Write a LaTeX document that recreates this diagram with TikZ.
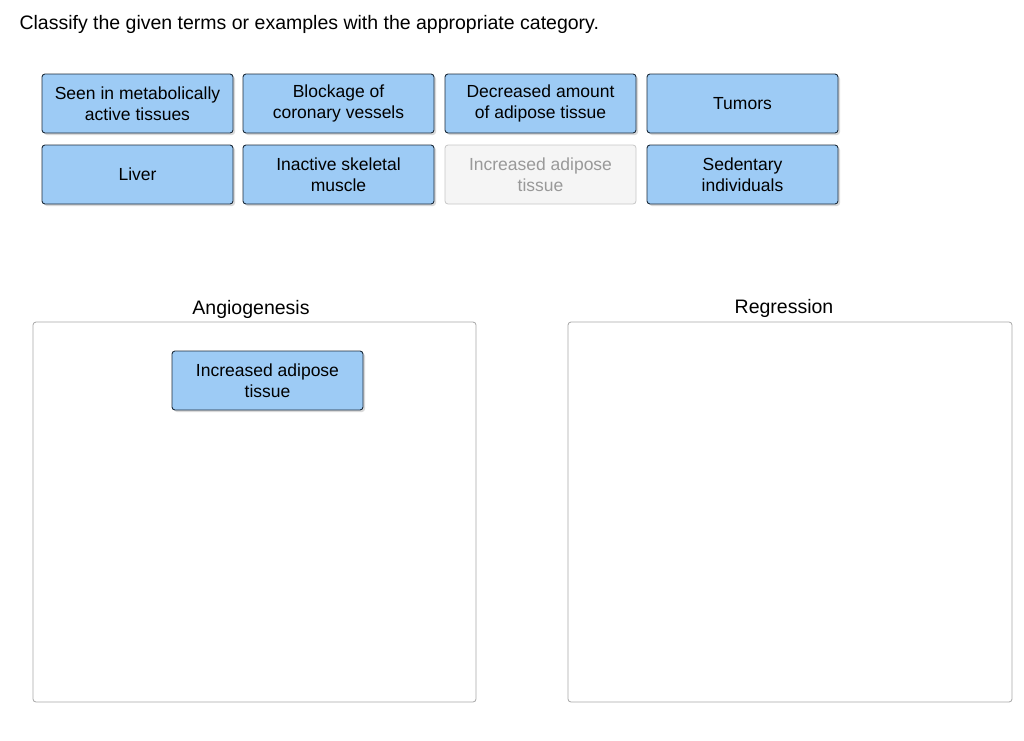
\documentclass[tikz,border=0pt]{standalone}
\usepackage{fontspec}
\setmainfont{Liberation Sans}
\usetikzlibrary{shadows}
\definecolor{cardblue}{HTML}{9DCBF5}
\definecolor{cardline}{HTML}{1C2B3A}
\begin{document}
\begin{tikzpicture}[x=1pt,y=-1pt,
  card/.style={draw=cardline,fill=cardblue,rounded corners=3pt,line width=0.9pt,minimum width=191pt,minimum height=59pt,inner sep=1pt,align=center,font=\fontsize{17.5}{21.5}\selectfont,text=black,drop shadow={shadow xshift=2pt,shadow yshift=-2pt,opacity=0.3}},
  ghost/.style={draw=black!22,fill=black!4,rounded corners=3pt,line width=0.8pt,minimum width=191pt,minimum height=59pt,inner sep=1pt,align=center,font=\fontsize{17.5}{21.5}\selectfont,text=black!40},
  bin/.style={draw=black!35,rounded corners=3pt,line width=0.8pt},
  lbl/.style={font=\fontsize{19.5}{23}\selectfont}]
\useasboundingbox (0,0) rectangle (1024,740);
\node[anchor=west,font=\fontsize{19.5}{23}\selectfont] (title) at (16,24) {Classify the given terms or examples with the appropriate category.};
\node[card] (c1) at (137.5,103.5) {Seen in metabolically\\active tissues};
\node[card] (c2) at (338.5,103.5) {Blockage of\\coronary vessels};
\node[card] (c3) at (540.5,103.5) {Decreased amount\\of adipose tissue};
\node[card] (c4) at (742.5,103.5) {Tumors};
\node[card] (c5) at (137.5,174.5) {Liver};
\node[card] (c6) at (338.5,174.5) {Inactive skeletal\\muscle};
\node[ghost] (c7) at (540.5,174.5) {Increased adipose\\tissue};
\node[card] (c8) at (742.5,174.5) {Sedentary\\individuals};
\node[lbl] (l1) at (251,309) {Angiogenesis};
\node[lbl] (l2) at (784,308) {Regression};
\draw[bin] (33,322) rectangle (476,702);
\draw[bin] (568,322) rectangle (1012,702);
\node[card,drop shadow={opacity=0}] (c9) at (267.5,380.5) {Increased adipose\\tissue};
\end{tikzpicture}
\end{document}
